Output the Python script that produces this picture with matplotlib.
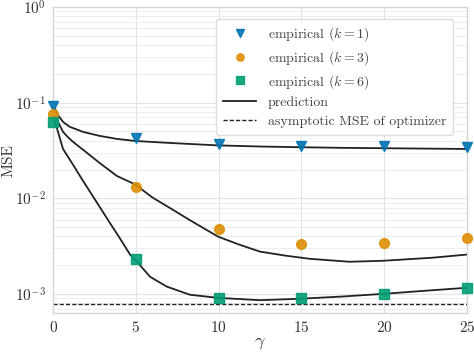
import matplotlib
matplotlib.use("Agg")
import matplotlib.pyplot as plt

plt.rcParams["font.family"] = "serif"
plt.rcParams["font.serif"] = ["cmr10", "DejaVu Serif"]
plt.rcParams["mathtext.fontset"] = "cm"
plt.rcParams["axes.unicode_minus"] = False
plt.rcParams["axes.formatter.use_mathtext"] = True

# empirical points
gamma_pts = [0, 5, 10, 15, 20, 25]
emp_k1 = [0.093, 0.043, 0.037, 0.035, 0.035, 0.034]
emp_k3 = [0.076, 0.013, 0.0048, 0.0033, 0.0034, 0.0038]
emp_k6 = [0.063, 0.0023, 0.00091, 0.00091, 0.0010, 0.00115]

# prediction curves
pred_k1_x = [0.0, 0.12, 0.3, 0.6, 1.0, 1.81, 2.8, 3.86, 4.95, 7.07, 9.9, 12.5, 15.0, 17.5, 20.0, 22.5, 25.0]
pred_k1_y = [0.092, 0.086, 0.074, 0.063, 0.056, 0.0495, 0.045, 0.0418, 0.0398, 0.0379, 0.0358,
             0.0348, 0.0342, 0.0337, 0.0334, 0.0331, 0.0328]
pred_k3_x = [0.0, 0.24, 0.6, 0.9, 1.2, 1.81, 2.8, 3.86, 4.95, 6.0, 7.07, 8.27, 9.96, 11.2, 12.5, 14.0,
             15.5, 17.9, 19.9, 22.9, 25.0]
pred_k3_y = [0.076, 0.066, 0.0495, 0.0435, 0.039, 0.0322, 0.0235, 0.0171, 0.0140, 0.0102, 0.0079, 0.0059,
             0.00398, 0.0033, 0.00277, 0.00252, 0.00233, 0.00217, 0.00222, 0.00239, 0.00258]
pred_k6_x = [0.0, 0.12, 0.6, 1.2, 1.75, 2.3, 2.84, 3.44, 4.0, 4.65, 5.07, 5.86, 6.88, 8.27, 9.96, 12.5,
             14.9, 17.5, 19.9, 22.5, 25.0]
pred_k6_y = [0.066, 0.063, 0.0328, 0.0225, 0.0158, 0.0112, 0.0080, 0.0055, 0.0039, 0.00258, 0.00217,
             0.00151, 0.00119, 0.00098, 0.00091, 0.00086, 0.00089, 0.00094, 0.0010, 0.00108, 0.00116]

asymptote = 0.000785

blue, orange, green = "#0173b2", "#de8f05", "#029e73"

fig, ax = plt.subplots(figsize=(4.74, 3.53), dpi=100)
fig.subplots_adjust(left=0.112, right=0.985, top=0.98, bottom=0.113)

ax.set_yscale("log")
ax.grid(True, which="major", color="#e3e3e3", lw=0.8)
ax.grid(True, which="minor", axis="y", color="#ebebeb", lw=0.6)
ax.set_axisbelow(True)
for s in ax.spines.values():
    s.set_color("#d6d6d6")
    s.set_linewidth(1.0)

ax.plot(gamma_pts, emp_k1, "v", color=blue, ms=7, alpha=0.9, ls="none",
        label=r"empirical ($k=1$)", clip_on=False, zorder=3)
ax.plot(gamma_pts, emp_k3, "o", color=orange, ms=7, alpha=0.9, ls="none",
        label=r"empirical ($k=3$)", clip_on=False, zorder=3)
ax.plot(gamma_pts, emp_k6, "s", color=green, ms=7, alpha=0.9, ls="none",
        label=r"empirical ($k=6$)", clip_on=False, zorder=3)

ax.plot(pred_k1_x, pred_k1_y, color="#222222", lw=1.3, label="prediction")
ax.plot(pred_k3_x, pred_k3_y, color="#222222", lw=1.3)
ax.plot(pred_k6_x, pred_k6_y, color="#222222", lw=1.3)
ax.axhline(asymptote, color="#222222", ls="--", lw=1.0, dashes=(3, 1.5),
           label="asymptotic MSE of optimizer")

ax.set_xlim(0, 25)
ax.set_ylim(6.3e-4, 1)
ax.set_xticks([0, 5, 10, 15, 20, 25])
ax.tick_params(axis="both", which="both", length=0, labelsize=11, labelcolor="#333333", pad=5)
ax.set_xlabel(r"$\gamma$", fontsize=13, color="#333333", labelpad=0)
ax.set_ylabel("MSE", fontsize=11, color="#333333")
ax.yaxis.set_label_coords(-0.092, 0.5)

leg = ax.legend(loc="upper right", fontsize=10, frameon=True, framealpha=1,
                edgecolor="#dddddd", borderpad=0.5, handlelength=2.4, labelspacing=0.42,
                markerscale=0.75, bbox_to_anchor=(0.983, 0.985))
for t in leg.get_texts():
    t.set_color("#444444")

fig.savefig("out.png", dpi=100)
